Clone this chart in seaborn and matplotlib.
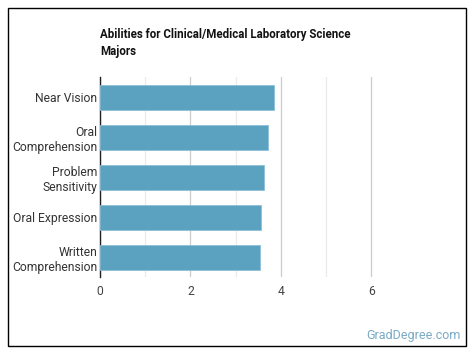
import matplotlib
matplotlib.use("Agg")
import matplotlib.pyplot as plt
import matplotlib.patches as patches
import seaborn as sns
import pandas as pd

abilities = ["Near Vision", "Oral\nComprehension", "Problem\nSensitivity",
             "Oral Expression", "Written\nComprehension"]
scores = [3.85, 3.71, 3.63, 3.56, 3.54]

df = pd.DataFrame({"ability": abilities, "score": scores})

sns.set_style("white")
plt.rcParams["font.family"] = ["Roboto", "DejaVu Sans"]

fig = plt.figure(figsize=(4.76, 3.57), dpi=100)
ax = fig.add_axes([100 / 476, 1 - 277 / 357, 312 / 476, 200 / 357])

sns.barplot(data=df, x="score", y="ability", color="#5ba2c1", width=0.625,
            edgecolor="#8cc0d8", linewidth=0.6, saturation=1, ax=ax, zorder=3)

ax.set_xlim(0, 6.9)
ax.set_xticks([0, 2, 4, 6])
ax.set_xticks([1, 3, 5], minor=True)
ax.grid(axis="x", which="major", color="#cccccc", linewidth=0.9, zorder=0)
ax.grid(axis="x", which="minor", color="#ebebeb", linewidth=0.9, zorder=0)
ax.set_axisbelow(True)
ax.set_xlabel("")
ax.set_ylabel("")
for s in ["top", "right", "bottom"]:
    ax.spines[s].set_visible(False)
ax.spines["left"].set_color("#222222")
ax.spines["left"].set_linewidth(1)
ax.tick_params(axis="both", which="both", length=0, labelsize=8.7, colors="#333333")
ax.tick_params(axis="x", pad=6, labelcolor="#444444")
ax.tick_params(axis="y", pad=2)

fig.text(100 / 476, 1 - 43 / 357, "Abilities for Clinical/Medical Laboratory Science\nMajors",
         fontsize=8.3, fontweight="bold", color="#111111", va="center", ha="left",
         linespacing=1.36)

fig.text(461 / 476, 1 - 335 / 357, "GradDegree.com", fontsize=9, color="#7aa9c6",
         ha="right", va="center")

fig.add_artist(patches.Rectangle((8 / 476, 1 - 346 / 357), 458 / 476, 338 / 357,
                                 transform=fig.transFigure, fill=False,
                                 edgecolor="black", linewidth=1))

fig.savefig("out.png", dpi=100)
